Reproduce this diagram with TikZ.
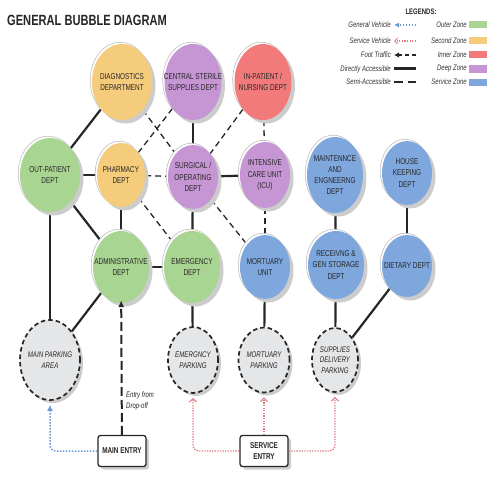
\documentclass[tikz,border=0pt]{standalone}
\usepackage{fontspec}
\setmainfont[FakeStretch=0.75]{Liberation Sans}
\usetikzlibrary{shapes.geometric,shadows,arrows.meta,backgrounds}
\definecolor{zgreen}{HTML}{A9D592}
\definecolor{zyellow}{HTML}{F5CB7C}
\definecolor{zred}{HTML}{F27A7A}
\definecolor{zpurple}{HTML}{C596D3}
\definecolor{zblue}{HTML}{7EA7DD}
\definecolor{zpark}{HTML}{E5E6E8}
\definecolor{gvblue}{HTML}{6A9BD1}
\definecolor{svred}{HTML}{E07A80}
\definecolor{ink}{HTML}{262626}
\begin{document}
\begin{tikzpicture}[x=1pt,y=-1pt,
  bub/.style={ellipse, inner sep=0pt, draw=none,
    general shadow={shadow xshift=3.5pt,shadow yshift=-3.5pt,fill=black!20},
    general shadow={shadow xshift=-1.8pt,shadow yshift=1.8pt,fill=white,draw=black!25,line width=0.6pt}},
  btxt/.style={font=\fontsize{8.5}{11.3}\selectfont, align=center, text=ink, inner sep=0pt},
  park/.style={ellipse, inner sep=0pt, fill=zpark, draw=ink, line width=1.7pt,
    dash pattern=on 4.5pt off 3pt,
    general shadow={shadow xshift=3pt,shadow yshift=-3pt,fill=black!20}},
  ptxt/.style={font=\itshape\fontsize{8.2}{10.8}\selectfont, align=center, text=ink, inner sep=0pt},
  entry/.style={rectangle, draw=ink, line width=1.3pt, rounded corners=2.5pt, fill=white,
    minimum width=48, minimum height=31, inner sep=0pt,
    general shadow={shadow xshift=3pt,shadow yshift=-3pt,fill=black!20},
    font=\bfseries\fontsize{8.5}{11}\selectfont, align=center, text=ink},
  direct/.style={line width=2.2pt, draw=ink},
  semi/.style={line width=1.3pt, draw=ink, dash pattern=on 6pt off 4pt},
  foot/.style={line width=2pt, draw=ink, dash pattern=on 9pt off 4pt, -{Latex[length=7pt,width=6pt]}},
  gv/.style={line width=1.5pt, draw=gvblue, dash pattern=on 1.5pt off 1.5pt, rounded corners=6pt, -{Latex[length=6pt,width=6pt]}},
  sv/.style={line width=1.3pt, draw=svred, dash pattern=on 1.3pt off 1.3pt, rounded corners=6pt, -{Straight Barb[length=3.5pt,width=7pt,line width=1.1pt]}},
  lgt/.style={font=\itshape\fontsize{8}{10}\selectfont, text=black!80, inner sep=0pt},
  swatch/.style={rectangle, minimum width=18, minimum height=7, inner sep=0pt, draw=none}
]
\useasboundingbox (0,0) rectangle (495,495);

% title
\node[anchor=west, font=\bfseries\fontsize{14.8}{16}\selectfont, text=ink, inner sep=0pt] (title) at (7,20) {GENERAL BUBBLE DIAGRAM};

% legend
\node[font=\bfseries\fontsize{8}{10}\selectfont, text=ink, inner sep=0pt] (leg) at (421,12) {LEGENDS:};
\node[lgt, anchor=east] (l1) at (391,25) {General Vehicle};
\node[lgt, anchor=east] (l2) at (391,41) {Service Vehicle};
\node[lgt, anchor=east] (l3) at (391,55) {Foot Traffic};
\node[lgt, anchor=east] (l4) at (391,69) {Directly Accessible};
\node[lgt, anchor=east] (l5) at (391,82) {Semi-Accessible};
\coordinate (g1a) at (394,25); \coordinate (g1b) at (416,25);
\coordinate (g2a) at (394,41); \coordinate (g2b) at (416,41);
\coordinate (g3a) at (394,55); \coordinate (g3b) at (416,55);
\coordinate (g4a) at (394,69); \coordinate (g4b) at (416,69);
\coordinate (g5a) at (394,82); \coordinate (g5b) at (416,82);
\draw[gv, rounded corners=0pt, -{Latex[length=5pt,width=5pt]}] (g1b) -- (g1a);
\draw[sv, rounded corners=0pt, -{Straight Barb[length=3pt,width=6pt,line width=1pt]}] (g2b) -- (g2a);
\draw[foot, -{Latex[length=5pt,width=5.5pt]}, dash pattern=on 4pt off 3pt] (g3b) -- (g3a);
\draw[direct, line width=3pt] (g4a) -- (g4b);
\draw[semi, dash pattern=on 9pt off 5pt] (g5a) -- (g5b);
\node[lgt, anchor=east] (z1) at (467,25) {Outer Zone};
\node[lgt, anchor=east] (z2) at (467,41) {Second Zone};
\node[lgt, anchor=east] (z3) at (467,55) {Inner Zone};
\node[lgt, anchor=east] (z4) at (467,69) {Deep Zone};
\node[lgt, anchor=east] (z5) at (467,82) {Service Zone};
\node[swatch, fill=zgreen] (s1) at (478,25) {};
\node[swatch, fill=zyellow] (s2) at (478,41) {};
\node[swatch, fill=zred] (s3) at (478,55) {};
\node[swatch, fill=zpurple] (s4) at (478,69) {};
\node[swatch, fill=zblue] (s5) at (478,82) {};

% bubbles row 1
\node[bub, fill=zyellow, minimum width=60, minimum height=76,
  label={[btxt]center:DIAGNOSTICS\\DEPARTMENT}] (diag) at (122,82) {};
\node[bub, fill=zpurple, minimum width=57, minimum height=76,
  label={[btxt]center:CENTRAL STERILE\\SUPPLIES DEPT}] (css) at (193,82) {};
\node[bub, fill=zred, minimum width=57, minimum height=76,
  label={[btxt]center:IN-PATIENT /\\NURSING DEPT}] (inpat) at (263,82) {};

% row 2
\node[bub, fill=zgreen, minimum width=60, minimum height=74,
  label={[btxt]center:OUT-PATIENT\\DEPT}] (outpat) at (50,175) {};
\node[bub, fill=zyellow, minimum width=48, minimum height=64,
  label={[btxt]center:PHARMACY\\DEPT}] (pharm) at (121,175) {};
\node[bub, fill=zpurple, minimum width=50, minimum height=64,
  label={[btxt]center:SURGICAL /\\OPERATING\\DEPT}] (surg) at (193,177) {};
\node[bub, fill=zpurple, minimum width=50, minimum height=66,
  label={[btxt]center:INTENSIVE\\CARE UNIT\\(ICU)}] (icu) at (265,175) {};
\node[bub, fill=zblue, minimum width=56, minimum height=76,
  label={[btxt]center:MAINTENNCE\\AND\\ENGNEERNG\\DEPT}] (maint) at (335,175) {};
\node[bub, fill=zblue, minimum width=50, minimum height=64,
  label={[btxt]center:HOUSE\\KEEPING\\DEPT}] (house) at (407,173) {};

% row 3
\node[bub, fill=zgreen, minimum width=56, minimum height=72,
  label={[btxt]center:ADMINISTRATIVE\\DEPT}] (admin) at (121,267) {};
\node[bub, fill=zgreen, minimum width=56, minimum height=72,
  label={[btxt]center:EMERGENCY\\DEPT}] (emerg) at (192,267) {};
\node[bub, fill=zblue, minimum width=50, minimum height=64,
  label={[btxt]center:MORTUARY\\UNIT}] (mortu) at (265,267) {};
\node[bub, fill=zblue, minimum width=56, minimum height=68,
  label={[btxt]center:RECEIVNG \&\\GEN STORAGE\\DEPT}] (recv) at (336,265) {};
\node[bub, fill=zblue, minimum width=50, minimum height=62,
  label={[btxt]center:DIETARY DEPT}] (diet) at (407,266) {};

% parking
\node[park, minimum width=60, minimum height=80,
  label={[ptxt]center:MAIN PARKING\\AREA}] (mainpark) at (50,360) {};
\node[park, minimum width=50, minimum height=66,
  label={[ptxt]center:EMERGNCY\\PARKING}] (empark) at (193,360) {};
\node[park, minimum width=51, minimum height=65,
  label={[ptxt]center:MORTUARY\\PARKING}] (mortpark) at (264,360) {};
\node[park, minimum width=46, minimum height=64,
  label={[ptxt]center:SUPPLIES\\DELIVERY\\PARKING}] (suppark) at (335,360) {};

% entries
\node[entry] (mainentry) at (122,451) {MAIN ENTRY};
\node[entry] (serventry) at (264,451) {SERVICE\\ENTRY};

\node[anchor=north west, align=left, font=\itshape\fontsize{8}{11}\selectfont, text=ink, inner sep=0pt] (elab) at (126,391) {Entry from\\Drop-off};

\begin{pgfonlayer}{background}
% directly accessible
\draw[direct] (outpat) -- (diag);
\draw[direct] (outpat) -- (pharm);
\draw[direct] (outpat) -- (admin);
\draw[direct] (outpat) -- (mainpark);
\draw[direct] (admin) -- (mainpark);
\draw[direct] (pharm) -- (admin);
\draw[direct] (admin) -- (emerg);
\draw[direct] (css) -- (surg);
\draw[direct] (surg) -- (emerg);
\draw[direct] (surg) -- (icu);
\draw[direct] (emerg) -- (empark);
\draw[direct] (mortu) -- (mortpark);
\draw[direct] (maint) -- (recv);
\draw[direct] (recv) -- (suppark);
\draw[direct] (house) -- (diet);
\draw[direct] (diet) -- (suppark);
% semi accessible
\draw[semi] (diag) -- (surg);
\draw[semi] (css) -- (pharm);
\draw[semi] (inpat) -- (surg);
\draw[semi] (pharm) -- (surg);
\draw[semi] (pharm) -- (emerg);
\draw[semi] (surg) -- (mortu);
\draw[semi] (inpat) -- (icu);
\draw[semi] (icu) -- (mortu);
\end{pgfonlayer}

% foot traffic
\draw[foot, shorten >=-3pt] (mainentry) -- (admin);
% vehicles
\draw[gv, shorten >=4pt] (mainentry.west) -| (mainpark.south);
\draw[sv, shorten >=4pt] (serventry.west) -| (empark.south);
\draw[sv, shorten >=4pt] (serventry.north) -- (mortpark.south);
\draw[sv, shorten >=4pt] (serventry.east) -| (suppark.south);
\end{tikzpicture}
\end{document}
